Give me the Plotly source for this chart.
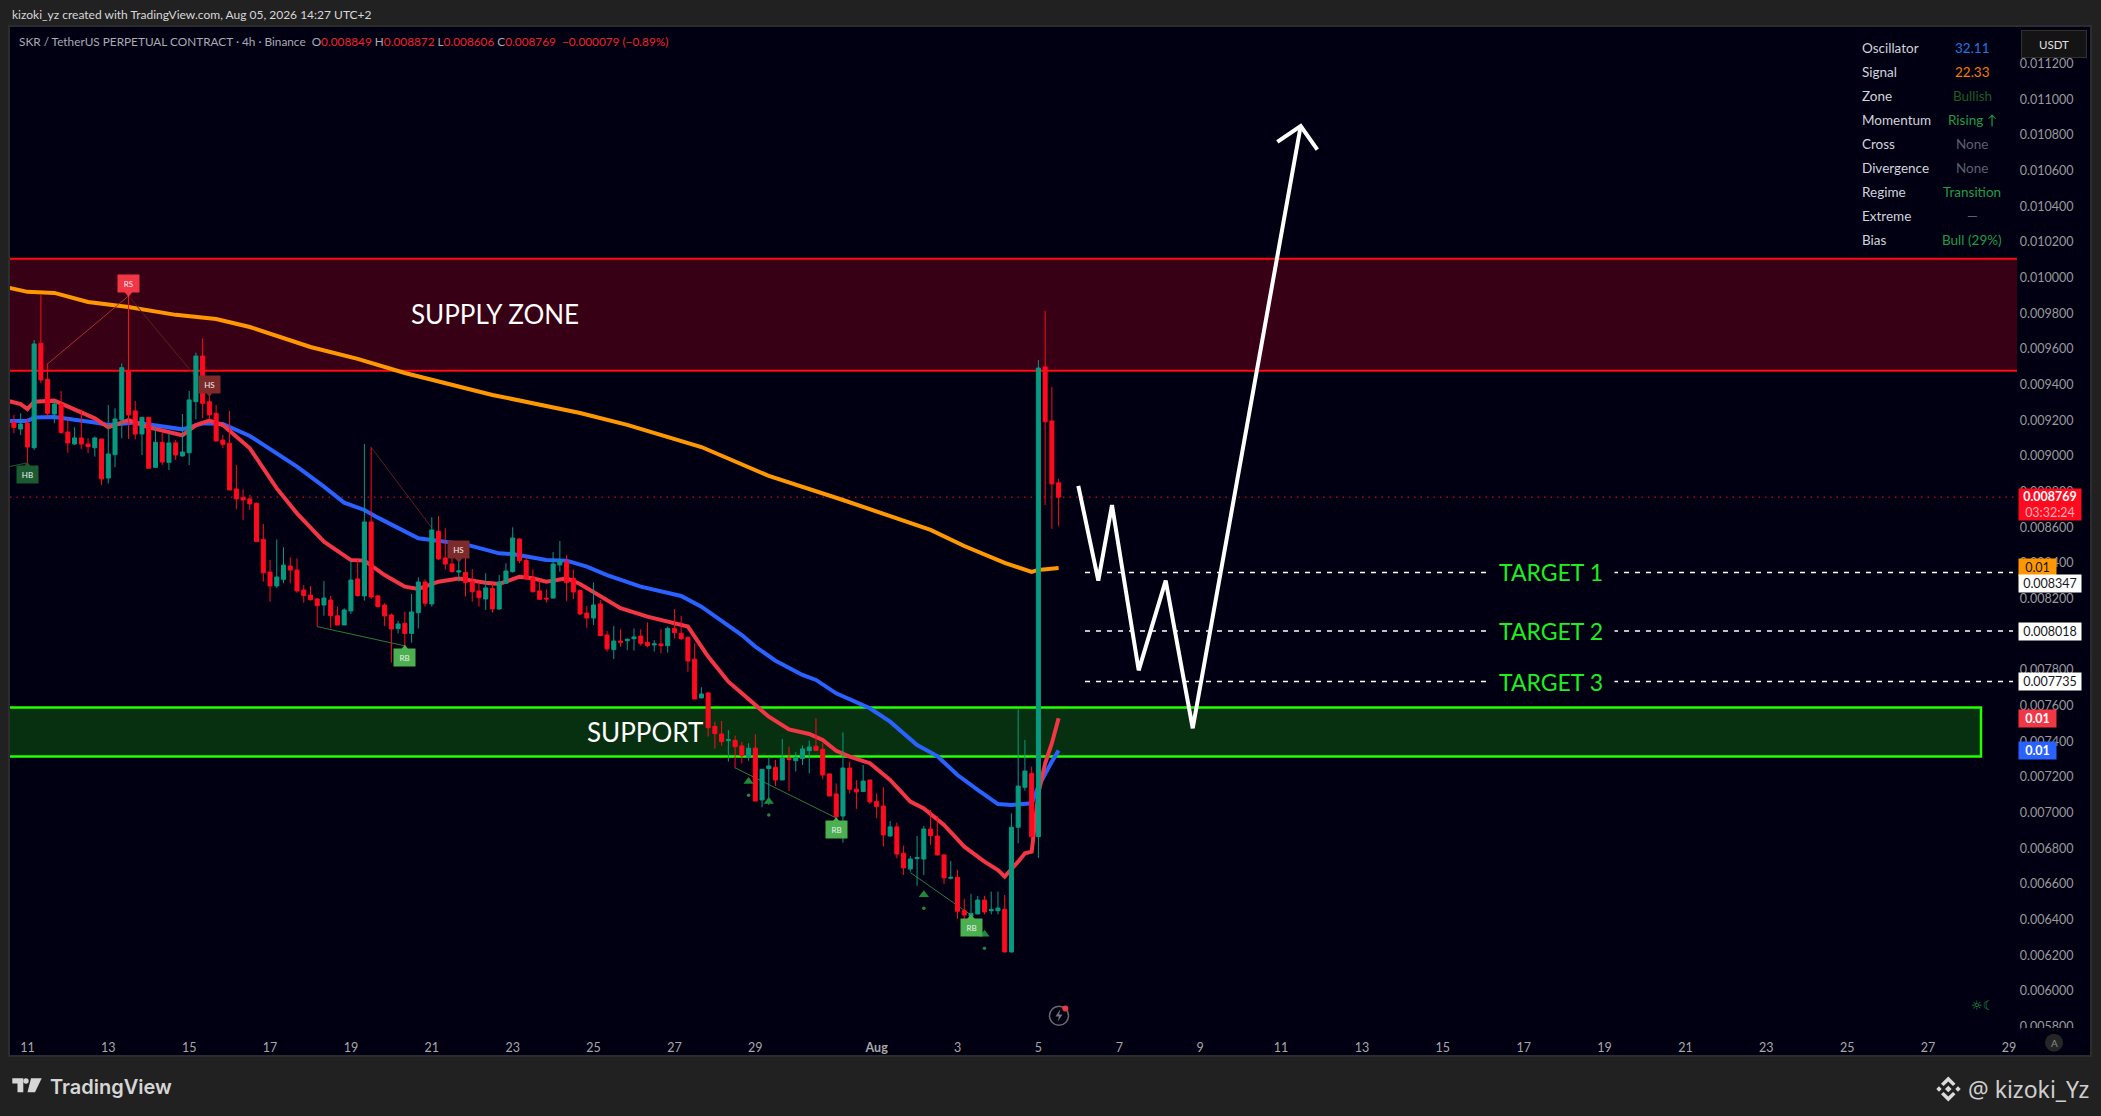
import numpy as np
import pandas as pd
import plotly.graph_objects as go

W, H = 2101, 1116
PANE = "#010013"
FRAME = "#212121"
UP = "#089981"
DOWN = "#ff0a1f"
FONT = "Lato"

# prices in millionths of USDT, one value per 4h bar
opens = [9187,9151,9183,9046,9631,9430,9235,9291,9134,9067,
         9101,9067,9046,9095,8876,9007,9201,9478,9252,9123,
         9216,8936,9076,8964,9073,9000,9018,9304,9560,9304,
         9239,9089,9071,8815,8768,8759,8734,8532,8349,8271,
         8308,8383,8360,8248,8220,8198,8164,8192,8104,8052,
         8131,8310,8215,8630,8215,8164,8108,8032,8061,8005,
         8121,8293,8170,8577,8428,8394,8349,8347,8295,8243,
         8198,8256,8142,8286,8351,8534,8413,8316,8243,8203,
         8203,8389,8407,8314,8245,8119,8091,8170,7996,7914,
         7962,7964,7975,7990,7955,7940,7946,7936,8033,8005,
         7983,7860,7643,7671,7484,7441,7404,7405,7374,7314,
         7362,7071,7247,7254,7183,7305,7291,7303,7348,7372,
         7355,7217,7105,6981,7250,7131,7118,7183,7063,7037,
         6869,6920,6772,6684,6742,6740,6908,6869,6763,6632,
         6637,6450,6421,6432,6510,6450,6450,6458,6219,6918,
         7142,7220,6865,9499,9196,8849]
highs = [9230,9239,9211,9650,9902,9519,9314,9364,9211,9160,
         9261,9099,9108,9095,9286,9267,9519,9902,9308,9220,
         9220,9160,9130,9127,9089,9235,9364,9579,9659,9342,
         9286,9117,9252,8949,8813,8781,8738,8618,8417,8532,
         8488,8431,8426,8276,8271,8202,8299,8215,8155,8146,
         8413,8417,9067,9048,8220,8174,8117,8076,8127,8226,
         8319,8308,8656,8663,8594,8510,8454,8431,8366,8286,
         8342,8286,8332,8398,8600,8538,8435,8364,8304,8252,
         8461,8523,8445,8364,8252,8159,8291,8192,8018,8047,
         8028,7977,8033,8028,8067,7968,8028,8043,8142,8103,
         7987,7949,7703,7675,7510,7514,7463,7432,7396,7389,
         7439,7243,7314,7295,7413,7370,7338,7376,7404,7529,
         7389,7220,7164,7450,7286,7183,7267,7183,7108,7142,
         6953,6944,6815,6757,6869,6925,7015,6981,6763,6729,
         6678,6516,6544,6533,6533,6557,6557,6538,6996,7579,
         7407,7258,9538,9813,9387,8872]
lows = [9127,9117,8959,9033,9407,9220,9183,9123,9018,9061,
        9039,9015,8996,8837,8846,8936,9099,9095,9093,9005,
        8927,8936,8949,8921,8977,8996,8949,9205,9211,9201,
        9080,9043,8809,8702,8641,8697,8519,8295,8183,8258,
        8286,8286,8233,8177,8189,8043,8104,8033,8052,8052,
        8114,8211,8189,8198,8151,8046,7841,8005,7934,7953,
        8032,8155,8155,8417,8364,8346,8295,8211,8183,8155,
        8136,8121,8136,8282,8346,8398,8304,8233,8192,8177,
        8202,8351,8187,8198,8108,8037,8052,7990,7903,7861,
        7931,7912,7908,7936,7927,7903,7893,7897,7977,7968,
        7790,7637,7643,7426,7359,7376,7286,7248,7276,7291,
        7065,7030,7043,7149,7183,7121,7230,7267,7220,7348,
        7187,7093,6974,6832,7108,7021,7116,7048,6968,6809,
        6865,6744,6650,6669,6589,6650,6819,6759,6600,6626,
        6405,6402,6417,6430,6430,6430,6430,6215,6215,6828,
        7123,6862,6746,8725,8591,8606]
closes = [9160,9179,9050,9628,9426,9239,9291,9132,9073,9101,
          9067,9052,9101,8871,9011,9207,9495,9230,9123,9216,
          8931,9076,8966,9073,9005,9022,9314,9560,9295,9230,
          9084,9065,8809,8759,8753,8731,8519,8345,8271,8321,
          8388,8360,8243,8217,8194,8160,8203,8104,8052,8136,
          8304,8217,8630,8209,8155,8103,8030,8058,8005,8125,
          8293,8174,8585,8422,8394,8351,8355,8291,8239,8205,
          8260,8142,8293,8355,8540,8413,8312,8239,8196,8198,
          8394,8411,8289,8237,8114,8091,8164,7992,7918,7962,
          7955,7972,7985,7949,7936,7946,7936,8033,8009,7975,
          7850,7637,7665,7476,7443,7398,7409,7370,7319,7361,
          7065,7243,7262,7183,7305,7299,7310,7357,7368,7348,
          7211,7093,6977,7250,7131,7116,7177,7060,7034,6875,
          6920,6768,6690,6740,6748,6908,6871,6763,6634,6637,
          6447,6426,6435,6510,6443,6456,6465,6219,6918,7149,
          7233,6865,9493,9191,8843,8769]

# moving averages, read at these bar numbers
orange_idx = [-1,2,6,11,17,24,30,35,44,51,58,71,84,91,102,112,123,136,141,147,151,152,155]
orange_val = [9945,9920,9914,9863,9835,9791,9768,9723,9611,9544,9465,9342,9241,9174,9050,8888,8753,8585,8495,8400,8350,8361,8372]
blue_idx = [-1,2,3,6,12,14,18,25,28,31,35,42,46,49,52,54,60,62,67,72,74,79,82,85,88,93,99,102,105,108,110,113,117,119,122,127,130,134,137,140,143,146,148,150,151,152,153,154,155]
blue_val = [9196,9196,9215,9218,9187,9173,9187,9149,9183,9179,9112,8940,8828,8738,8697,8654,8538,8529,8504,8454,8450,8417,8413,8379,8332,8267,8215,8155,8076,7996,7931,7852,7772,7744,7669,7585,7510,7379,7317,7211,7127,7048,7043,7052,7052,7146,7220,7286,7348]
red_idx = [-1,1,2,3,6,9,12,14,17,20,25,27,29,31,35,39,42,46,50,52,55,58,60,63,66,70,72,75,77,79,82,84,87,90,94,97,100,103,106,108,110,112,115,118,120,122,124,127,130,133,135,138,141,144,146,147,149,150,151,152,153,154,155]
red_val = [9310,9291,9263,9304,9310,9261,9211,9160,9201,9160,9116,9173,9198,9173,9043,8818,8678,8519,8416,8413,8332,8267,8254,8295,8312,8289,8282,8323,8314,8295,8314,8282,8211,8146,8099,8071,8043,7875,7734,7669,7603,7538,7467,7441,7407,7347,7314,7277,7183,7062,7024,6931,6809,6725,6678,6641,6725,6772,6781,7108,7276,7389,7529]

supply_zone = (9478, 10105)
support_zone = (7314, 7589)
last_price = 8769
targets = [8347, 8018, 7735]
target_names = ["TARGET 1", "TARGET 2", "TARGET 3"]

# hand-drawn projection
path_times = ["2026-08-05 23:41","2026-08-06 11:33","2026-08-06 19:41","2026-08-07 11:31","2026-08-08 03:33","2026-08-08 19:35","2026-08-11 11:40"]
path_prices = [8832,8301,8724,7798,8301,7473,10850]
head_times = ["2026-08-10 21:48","2026-08-11 11:40","2026-08-11 21:32"]
head_prices = [10761,10850,10717]

# pattern tags: label, bar, tip price, pointer direction, colour
tags = [("RS",17,9897,"down","#f23645"),
        ("HS",29,9336,"down","#7d2a2a"),
        ("HB",2,8961,"up","#1c5a30"),
        ("RB",58,7935,"up","#4caf50"),
        ("HS",66,8406,"down","#7d2a2a"),
        ("RB",122,6970,"up","#4caf50"),
        ("RB",142,6426,"up","#4caf50")]
pattern_lines = [([5,17],[9516,9897],"#a83232"),
                 ([17,27],[9897,9443],"#5e1f1f"),
                 ([53,62],[9049,8596],"#5e1f1f"),
                 ([-1,2],[8938,8961],"#1c5a30"),
                 ([45,58],[8043,7935],"#2e7d32"),
                 ([107,122],[7251,6970],"#2e7d32"),
                 ([133,142],[6664,6426],"#2e7d32")]
signal_idx = [109,112,135,144]
signal_tri = [7174,7062,6540,6318]
signal_dot = [7098,6986,6464,6240]

table_labels = ["Oscillator","Signal","Zone","Momentum","Cross","Divergence","Regime","Extreme","Bias"]
table_values = ["32.11","22.33","Bullish","Rising ↑","None","None","Transition","—","Bull (29%)"]
table_colors = ["#1e78e0","#f57c00","#1b5e20","#1f9d45","#5d606b","#5d606b","#1f9d45","#5d606b","#1f9d45"]

tick_days = ["2026-07-%02d" % d for d in range(11,30,2)] + ["2026-08-01"] + ["2026-08-%02d" % d for d in range(3,30,2)]
tick_text = [str(d) for d in range(11,30,2)] + ["<b>Aug</b>"] + [str(d) for d in range(3,30,2)]
price_ticks = [0.0058 + 0.0002*i for i in range(28)]

first_bar = pd.Timestamp("2026-07-10 16:00")
day0 = pd.Timestamp("2026-07-11")
PRICE_PER_PX = 5.607  # millionths of USDT per pane pixel


def bar_time(i):
    return first_bar + pd.Timedelta(hours=4)*i


def bar_times(idx):
    return [bar_time(i) for i in idx]


def px(x):
    return x / W


def py(y):
    return 1 - y / H


def micro(v):
    return np.array(v) / 1e6


def pane_time(x):
    # pane pixel to time, 40.44 px per day with Jul 11 at 27.4
    return day0 + pd.Timedelta(days=(x - 27.4) / 40.44)


def text(x, y, s, size=12, color="#d1d4dc", anchor="left", yref="paper", family=FONT, weight=None, **kw):
    font = dict(family=family, size=size, color=color)
    if weight:
        font["weight"] = weight
    return dict(x=px(x), y=(py(y) if yref == "paper" else y), xref="paper", yref=yref, text=s, showarrow=False,
                xanchor=anchor, yanchor="middle", font=font, **kw)


def poly(points, color):
    path = "M " + " L ".join(f"{px(a):.5f},{py(b):.5f}" for a, b in points) + " Z"
    return dict(type="path", path=path, xref="paper", yref="paper", fillcolor=color, line=dict(width=0), layer="above")


def circle(cx, cy, r, fill, line_color=None):
    return dict(type="circle", xref="paper", yref="paper", x0=px(cx-r), x1=px(cx+r), y0=py(cy+r), y1=py(cy-r),
                fillcolor=fill, line=dict(color=line_color or fill, width=1.5 if line_color else 0), layer="above")


fig = go.Figure()

fig.add_trace(go.Scatter(x=bar_times(orange_idx), y=micro(orange_val), mode="lines", line=dict(color="#ff9800", width=4)))
fig.add_trace(go.Scatter(x=bar_times(blue_idx), y=micro(blue_val), mode="lines", line=dict(color="#2962ff", width=4)))
fig.add_trace(go.Scatter(x=bar_times(red_idx), y=micro(red_val), mode="lines", line=dict(color="#f23645", width=4)))
for idx, vals, col in pattern_lines:
    fig.add_trace(go.Scatter(x=bar_times(idx), y=micro(vals), mode="lines", line=dict(color=col, width=1)))

fig.add_trace(go.Scatter(x=pd.to_datetime(path_times), y=micro(path_prices), mode="lines", line=dict(color="#ffffff", width=4)))
fig.add_trace(go.Scatter(x=pd.to_datetime(head_times), y=micro(head_prices), mode="lines", line=dict(color="#ffffff", width=4)))

# candles sit on an overlaid axis so they stay above the averages
fig.add_trace(go.Candlestick(x=bar_times(range(len(opens))), open=micro(opens), high=micro(highs), low=micro(lows), close=micro(closes),
                             yaxis="y2", whiskerwidth=0,
                             increasing=dict(line=dict(color=UP, width=1), fillcolor=UP),
                             decreasing=dict(line=dict(color=DOWN, width=1), fillcolor=DOWN)))
fig.add_trace(go.Scatter(x=bar_times(signal_idx), y=micro(signal_tri), mode="markers", yaxis="y2",
                         marker=dict(symbol="triangle-up", size=9, color="#1f8a3b")))
fig.add_trace(go.Scatter(x=bar_times(signal_idx), y=micro(signal_dot), mode="markers", yaxis="y2",
                         marker=dict(symbol="circle", size=3.5, color="#1f8a3b")))
# pointers of the pattern tags
fig.add_trace(go.Scatter(x=[bar_time(t[1]) for t in tags],
                         y=[(t[2] + (4 if t[3] == "down" else -4)*PRICE_PER_PX)/1e6 for t in tags],
                         mode="markers", yaxis="y2",
                         marker=dict(symbol=["triangle-down" if t[3] == "down" else "triangle-up" for t in tags],
                                     size=10, color=[t[4] for t in tags])))

x_range = [pane_time(10), pane_time(2090)]
y_range = [0.005641, 0.011405]

shapes = [
    dict(type="rect", xref="x", yref="y", x0=pane_time(0), x1=pane_time(2017), y0=supply_zone[0]/1e6, y1=supply_zone[1]/1e6,
         fillcolor="#380014", line=dict(width=0), layer="below"),
    dict(type="rect", xref="x", yref="y", x0=pane_time(0), x1=pane_time(1981), y0=support_zone[0]/1e6, y1=support_zone[1]/1e6,
         fillcolor="#073010", line=dict(color="#22ff00", width=2.5), layer="below"),
    dict(type="line", xref="x", yref="y", x0=pane_time(10), x1=pane_time(2018), y0=last_price/1e6, y1=last_price/1e6,
         line=dict(color=DOWN, width=1, dash="1.5px,5px"), layer="below"),
]
for edge in supply_zone:
    shapes.append(dict(type="line", xref="x", yref="y", x0=pane_time(0), x1=pane_time(2017), y0=edge/1e6, y1=edge/1e6,
                       line=dict(color="#ff0a14", width=2), layer="below"))
for t in targets:
    shapes.append(dict(type="line", xref="x", yref="y", x0=pane_time(1085), x1=pane_time(2013), y0=t/1e6, y1=t/1e6,
                       line=dict(color="#ffffff", width=1.5, dash="5px,6px"), layer="below"))

# hides the lower half of the cut-off bottom price label
shapes.append(dict(type="rect", xref="paper", yref="paper", x0=px(2021), x1=px(2088), y0=py(1037), y1=py(1028),
                   fillcolor=PANE, line=dict(width=0), layer="above"))

# TradingView logo
shapes += [poly([(12.3,1078.3),(23.3,1078.3),(23.3,1092.3),(17.5,1092.3),(17.5,1083.5),(12.3,1083.5)], "#d6d6d6"),
           circle(26,1081,2.7,"#d6d6d6"),
           poly([(31,1078.3),(41.7,1078.3),(35,1092.3),(27.5,1092.3)], "#d6d6d6")]
# Binance logo
shapes += [poly([(1948.3,1085.7),(1951.6,1089),(1948.3,1092.3),(1945,1089)], "#dcdcdc"),
           poly([(1939,1086.3),(1941.7,1089),(1939,1091.7),(1936.3,1089)], "#dcdcdc"),
           poly([(1958,1086.3),(1960.7,1089),(1958,1091.7),(1955.3,1089)], "#dcdcdc"),
           poly([(1948.3,1076.5),(1955.5,1083.7),(1953,1086),(1948.3,1081.5),(1943.6,1086),(1941,1083.7)], "#dcdcdc"),
           poly([(1948.3,1101.5),(1955.5,1094.3),(1953,1092),(1948.3,1096.5),(1943.6,1092),(1941,1094.3)], "#dcdcdc")]
# replay badge
shapes += [circle(1059,1015.7,9.5,"rgba(0,0,0,0)","#6a6a6a"),
           poly([(1060.5,1009),(1055.5,1016.5),(1059,1016.5),(1057.5,1022),(1062.5,1014.5),(1059,1014.5)], "#777777"),
           circle(1065.3,1008.5,3,"#f23645"),
           circle(2054,1042.7,9,"#262626")]

ann = []
ann.append(text(10, 14.5, "kizoki_yz created with TradingView.com, Aug 05, 2026 14:27 UTC+2", size=12, color="#d8d8d8"))
r = '<span style="color:#f0202f">%s</span>'
ann.append(text(17, 41.7, "SKR / TetherUS PERPETUAL CONTRACT · 4h · Binance\u00a0\u00a0O" + r % "0.008849" + "\u00a0H" + r % "0.008872"
                + "\u00a0L" + r % "0.008606" + "\u00a0C" + r % "0.008769" + "\u00a0\u00a0" + r % "−0.000079 (−0.89%)",
                size=11.8, color="#a9abb3"))
ann.append(text(495, 314, "SUPPLY ZONE", size=26, color="#ffffff", anchor="center"))
ann.append(text(645, 732, "SUPPORT", size=26, color="#ffffff", anchor="center"))
for t, name in zip(targets, target_names):
    ann.append(text(1551, t/1e6, name, size=23, color="#1fee1f", anchor="center", yref="y", bgcolor=PANE, width=124, height=22))

for i, (lab, val, col) in enumerate(zip(table_labels, table_values, table_colors)):
    y = 48.3 + 24*i
    ann.append(text(1860, y, lab, size=13.5, color="#d1d4dc"))
    ann.append(text(1972, y, val, size=13.5, color=col, anchor="center"))

ann.append(text(2021, 44, "USDT", size=11.5, color="#e0e0e0", bgcolor="#141414", bordercolor="#303030", width=62, height=24, align="center"))

# price tags on the scale
ann.append(text(2018, last_price/1e6, "<b>0.008769</b><br><span style='color:#ffb0b8'>03:32:24</span>", size=12.5, color="#ffffff", yref="y",
                bgcolor=DOWN, width=60, height=29, yshift=-7))
ann.append(text(2018, orange_val[-1]/1e6, "0.01", size=12.5, color="#131722", yref="y", bgcolor="#ff9800", width=35, height=15))
for t, shift in zip(targets, [-11.6, 0, 0]):
    ann.append(text(2018, t/1e6, f"{t/1e6:.6f}", size=12.5, color="#131722", yref="y", bgcolor="#ffffff", width=60, height=15, yshift=shift))
ann.append(text(2018, red_val[-1]/1e6, "<b>0.01</b>", size=12.5, color="#ffffff", yref="y", bgcolor="#f23645", width=35, height=15))
ann.append(text(2018, blue_val[-1]/1e6, "<b>0.01</b>", size=12.5, color="#ffffff", yref="y", bgcolor="#2962ff", width=35, height=15))

for lab, i, tip, way, col in tags:
    ann.append(dict(x=bar_time(i), y=tip/1e6, xref="x", yref="y", text=lab, showarrow=False, yanchor="middle",
                    yshift=(12 if way == "down" else -12), bgcolor=col, width=19, height=15,
                    font=dict(family=FONT, size=8, color="#eeeeee")))

ann.append(text(1982.5, 1005, "☼☾", size=13, color="#1f9d45", anchor="center", family="DejaVu Sans"))
ann.append(text(2054, 1042.7, "A", size=10, color="#8a8a8a", anchor="center"))
ann.append(text(48, 1086.7, "TradingView", size=20, color="#d6d6d6", family="Inter", weight=600))
ann.append(text(1966, 1089, "@ kizoki_Yz", size=23, color="#cfcfcf", family="Noto Sans"))

fig.update_layout(
    width=W, height=H, margin=dict(l=0, r=0, t=0, b=0), autosize=False,
    paper_bgcolor=FRAME, plot_bgcolor=PANE, showlegend=False, hovermode=False, boxgap=0.4, boxgroupgap=0,
    shapes=shapes, annotations=ann,
    xaxis=dict(domain=[px(10), px(2090)], type="date", range=x_range, rangeslider=dict(visible=False),
               tickmode="array", tickvals=tick_days, ticktext=tick_text, ticklabelposition="inside", ticks="",
               tickfont=dict(family=FONT, size=12.5, color="#a8a8a8"), showgrid=False, zeroline=False,
               showline=True, mirror=True, linecolor="#2c2c2c", linewidth=2),
    yaxis=dict(domain=[py(1055), py(27)], range=y_range, side="right", tickmode="array", tickvals=price_ticks,
               tickformat=".6f", ticklabelposition="inside", ticklabelstandoff=16, ticks="",
               tickfont=dict(family=FONT, size=12.5, color="#9a9a9a"), showgrid=False, zeroline=False,
               showline=True, mirror=True, linecolor="#2c2c2c", linewidth=2),
    yaxis2=dict(overlaying="y", range=y_range, side="right", showticklabels=False, showgrid=False, zeroline=False, ticks=""),
)

fig.write_html("out.html", config={"displayModeBar": False},
               post_script="document.body.style.margin='0';document.body.style.background='%s';" % FRAME)
